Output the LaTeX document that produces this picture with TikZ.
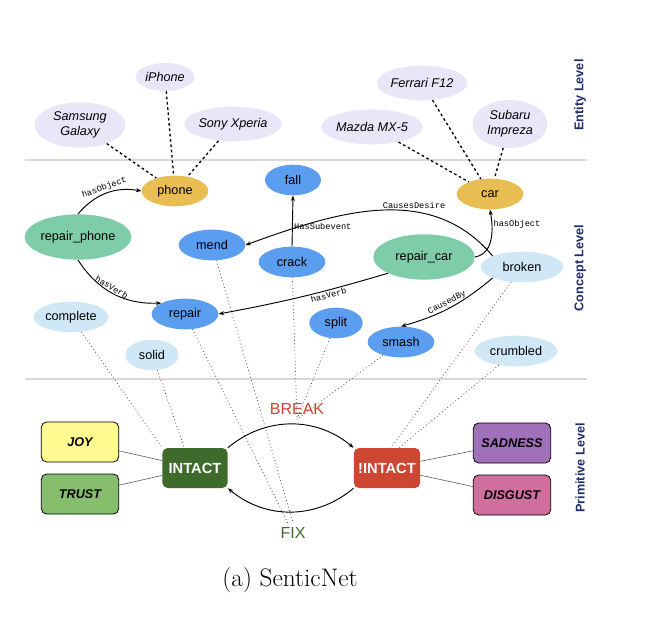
\documentclass[tikz,border=0pt]{standalone}
\usepackage{fontspec}
\setmainfont{Liberation Sans}
\newfontfamily\lmono{Liberation Mono}
\usetikzlibrary{shapes.geometric,arrows.meta}
\definecolor{lav}{HTML}{E9E6F7}
\definecolor{gold}{HTML}{E8BE52}
\definecolor{grn}{HTML}{7FCCA8}
\definecolor{blu}{HTML}{5B9DEE}
\definecolor{lblu}{HTML}{D0E8F6}
\definecolor{joyc}{HTML}{FFF98F}
\definecolor{trustc}{HTML}{86BE6E}
\definecolor{intc}{HTML}{3E6B2C}
\definecolor{nintc}{HTML}{CC4632}
\definecolor{sadc}{HTML}{A070BA}
\definecolor{disc}{HTML}{D06E9E}
\definecolor{navy}{HTML}{1F2C6B}
\begin{document}
\begin{tikzpicture}[x=0.75pt,y=-0.75pt,
 el/.style={ellipse,draw=none,inner sep=0pt,font=\fontsize{9.5}{11}\selectfont,align=center},
 ent/.style={el,fill=lav,font=\fontsize{9.5}{11}\selectfont\itshape},
 box/.style={rectangle,rounded corners=4pt,draw=black,line width=0.6pt,minimum width=58pt,minimum height=30pt,font=\fontsize{9.5}{11}\selectfont\bfseries\itshape},
 prim/.style={rectangle,rounded corners=4pt,draw=none,minimum width=49pt,minimum height=30pt,text=white,font=\fontsize{11}{13}\selectfont\bfseries},
 dsh/.style={densely dashed,line width=1pt,dash pattern=on 2pt off 2pt},
 dot/.style={dotted,line width=0.6pt,black!70},
 rel/.style={-{Stealth[length=4pt]},line width=0.7pt},
 lab/.style={font=\lmono\fontsize{6.5}{7}\selectfont,inner sep=1pt},
 lvl/.style={font=\fontsize{9.5}{11}\selectfont\bfseries,text=navy,rotate=90}]
\useasboundingbox (0,0) rectangle (649,620);
\draw[black!15,line width=0.8pt] (25,160) -- (587,160) (25,379) -- (587,379);
\node[lvl] (l1) at (580,95) {Entity Level};
\node[lvl] (l2) at (580,268) {Concept Level};
\node[lvl] (l3) at (580,468) {Primitive Level};
% entities
\node[ent,minimum width=58pt*0.75/0.75*0.75,minimum width=44pt,minimum height=21pt] (iph) at (165,77) {iPhone};
\node[ent,minimum width=68pt,minimum height=34pt] (sam) at (80,125) {Samsung\\Galaxy};
\node[ent,minimum width=64pt,minimum height=26pt] (sony) at (233,124) {Sony Xperia};
\node[ent,minimum width=68pt,minimum height=26pt] (fer) at (422,83) {Ferrari F12};
\node[ent,minimum width=68pt,minimum height=26pt] (maz) at (372,127) {Mazda MX-5};
\node[ent,minimum width=56pt,minimum height=36pt] (sub) at (510,124) {Subaru\\Impreza};
\node[el,fill=gold,minimum width=50pt,minimum height=23pt] (phone) at (175,191) {phone};
\node[el,fill=gold,minimum width=50pt,minimum height=23pt] (car) at (490,194) {car};
% concepts
\node[el,fill=blu,minimum width=42pt,minimum height=23pt] (fall) at (293,180) {fall};
\node[el,fill=grn,minimum width=80pt,minimum height=34pt] (rp) at (78,237) {repair\_phone};
\node[el,fill=blu,minimum width=50pt,minimum height=23pt] (mend) at (212,245) {mend};
\node[el,fill=blu,minimum width=50pt,minimum height=23pt] (crack) at (292,262) {crack};
\node[el,fill=grn,minimum width=76pt,minimum height=34pt] (rc) at (424,257) {repair\_car};
\node[el,fill=lblu,minimum width=62pt,minimum height=23pt] (broken) at (522,267) {broken};
\node[el,fill=lblu,minimum width=56pt,minimum height=23pt] (comp) at (71,317) {complete};
\node[el,fill=blu,minimum width=50pt,minimum height=23pt] (repair) at (185,314) {repair};
\node[el,fill=blu,minimum width=40pt,minimum height=23pt] (split) at (336,323) {split};
\node[el,fill=lblu,minimum width=40pt,minimum height=23pt] (solid) at (152,355) {solid};
\node[el,fill=blu,minimum width=50pt,minimum height=23pt] (smash) at (401,342) {smash};
\node[el,fill=lblu,minimum width=62pt,minimum height=23pt] (crum) at (516,351) {crumbled};
% primitives
\node[box,fill=joyc] (joy) at (80,442) {JOY};
\node[box,fill=trustc] (trust) at (80,494) {TRUST};
\node[box,fill=sadc] (sad) at (512,443) {SADNESS};
\node[box,fill=disc] (dis) at (512,495) {DISGUST};
\node[prim,fill=intc] (int) at (195,468) {INTACT};
\node[prim,fill=nintc] (nint) at (387,468) {!INTACT};
\node[text=nintc,font=\fontsize{12}{14}\selectfont] (brk) at (297,409) {BREAK};
\node[text=intc,font=\fontsize{12}{14}\selectfont] (fix) at (293,533) {FIX};
\node[font=\fontsize{19}{22}\selectfont\rmfamily,font=\fontsize{19}{22}\fontfamily{lmr}\selectfont] (cap) at (290,580) {(a) SenticNet};
% entity links
\draw[dsh] (iph) -- (phone); \draw[dsh] (sam) -- (phone); \draw[dsh] (sony) -- (phone);
\draw[dsh] (fer) -- (car); \draw[dsh] (maz) -- (car); \draw[dsh] (sub) -- (car);
% relations
\draw[rel] (rp.north) to[bend left=30] node[lab,above,sloped] {hasObject} (phone.west);
\draw[rel] (rp.south) to[bend right=30] node[lab,above,sloped,pos=0.45] {hasVerb} (repair.north west);
\draw[rel] (rc.south west) to[bend left=3] node[lab,below,sloped,pos=0.35] {hasVerb} (repair.east);
\draw[rel] (rc.east) to[out=10,in=-80] node[lab,right,pos=0.75] {hasObject} (car.south);
\draw[rel] (crack.north) -- node[lab,right,pos=0.4] {HasSubevent} (fall.south);
\draw[rel] (broken.north west) to[out=130,in=20] coordinate[pos=0.35] (cd) (mend.east);
\node[lab,above] (cdl) at (414,210) {CausesDesire};
\draw[rel] (broken.south west) to[bend left=12] node[lab,above,sloped] {CausedBy} (smash.north);
% dotted
\draw[dot] (comp) -- (int.north west);
\draw[dot] (solid) -- ([xshift=-8pt]int.north);
\draw[dot] (repair) -- ([xshift=-4pt]fix.north);
\draw[dot] (mend) -- (fix.north);
\draw[dot] (crack) -- (brk.south);
\draw[dot] (split) -- (brk.south);
\draw[dot] (smash) -- (brk.south);
\draw[dot] (broken) -- ([xshift=3pt]nint.north);
\draw[dot] (crum) -- ([xshift=9pt]nint.north);
% primitive links
\draw[black!70] (joy) -- (int); \draw[black!70] (trust) -- (int);
\draw[black!70] (sad) -- (nint); \draw[black!70] (dis) -- (nint);
\draw[rel] (int.north east) to[bend left=40] (nint.north west);
\draw[rel] (nint.south west) to[bend left=40] (int.south east);
\end{tikzpicture}
\end{document}
